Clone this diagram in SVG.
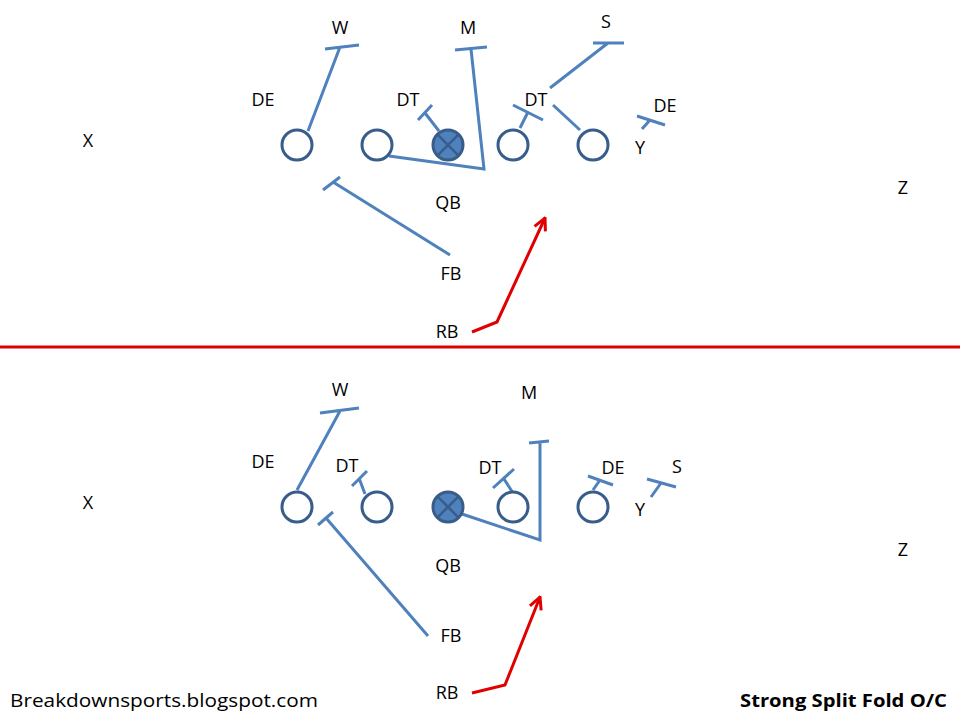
<svg xmlns="http://www.w3.org/2000/svg" width="960" height="720" viewBox="0 0 960 720">
<defs>
<style>
.l{fill:none;stroke:#4F81BD;stroke-width:3;stroke-linecap:butt}
.r{fill:none;stroke:#E00000;stroke-width:3}
.o{fill:#fff;stroke:#385D8A;stroke-width:3}
.f{fill:#4F81BD;stroke:#385D8A;stroke-width:3}
.x{stroke:#385D8A;stroke-width:2.5}
text{font-family:"Open Sans","Liberation Sans",sans-serif;font-size:18px;fill:#000;text-anchor:middle}
</style>
<marker id="ah" viewBox="0 0 10 10" refX="9" refY="5" markerWidth="5" markerHeight="5" orient="auto" markerUnits="strokeWidth">
<path d="M1,1 L9,5 L1,9" fill="none" stroke="#E00000" stroke-width="2"/>
</marker>
</defs>
<rect width="960" height="720" fill="#fff"/>
<g id="connectors">
<!-- top -->
<path class="l" d="M308,131 L340,47 M325,49 L359,45"/>
<path class="l" d="M455,50 L487,47 M471,49 L484,169 L389,156"/>
<path class="l" d="M439,131 L425,113 M418,120 L432,105"/>
<path class="l" d="M520,128 L528,112 M513,105 L543,120"/>
<path class="l" d="M550,88 L608,43 M593,43 L624,43"/>
<path class="l" d="M580,130 L553,105"/>
<path class="l" d="M642,129 L650,120 M637,116 L665,125"/>
<path class="l" d="M450,255 L333,182 M323,190 L340,177"/>
<path class="r" d="M472,332 L497,322 L545,218" marker-end="url(#ah)"/>
<line class="r" x1="0" y1="347" x2="960" y2="347"/>
<!-- bottom -->
<path class="l" d="M297,490 L340,411 M320,413 L359,408"/>
<path class="l" d="M365,494 L359,478 M352,486 L367,471"/>
<path class="l" d="M428,636 L326,518 M318,525 L333,512"/>
<path class="l" d="M529,443 L549,441 M540,442 L540,540 L462,514"/>
<path class="l" d="M513,493 L504,479 M493,488 L514,469"/>
<path class="l" d="M593,490 L600,480 M588,476 L613,485"/>
<path class="l" d="M651,497 L661,483 M647,479 L676,487"/>
<path class="r" d="M472,693 L505,685 L540,597" marker-end="url(#ah)"/>
</g>
<g id="top-line">
<g id="t-de1"><circle class="o" cx="297" cy="145" r="15"/></g>
<g id="t-g1"><circle class="o" cx="377" cy="145" r="15"/></g>
<g id="t-c"><circle class="f" cx="448" cy="145" r="15"/><path class="x" d="M437.4,134.4 L458.6,155.6 M458.6,134.4 L437.4,155.6"/></g>
<g id="t-g2"><circle class="o" cx="513" cy="145" r="15"/></g>
<g id="t-t"><circle class="o" cx="593" cy="145" r="15"/></g>
</g>
<g id="bottom-line">
<g id="b-de1"><circle class="o" cx="297" cy="507" r="15"/></g>
<g id="b-g1"><circle class="o" cx="377" cy="507" r="15"/></g>
<g id="b-c"><circle class="f" cx="448" cy="507" r="15"/><path class="x" d="M437.4,496.4 L458.6,517.6 M458.6,496.4 L437.4,517.6"/></g>
<g id="b-g2"><circle class="o" cx="513" cy="507" r="15"/></g>
<g id="b-t"><circle class="o" cx="593" cy="507" r="15"/></g>
</g>
<g id="labels-top">
<text x="340" y="34">W</text>
<text x="468" y="34">M</text>
<text x="606" y="28">S</text>
<text x="263" y="106">DE</text>
<text x="408" y="106">DT</text>
<text x="536" y="106">DT</text>
<text x="665" y="112">DE</text>
<text x="640" y="154">Y</text>
<text x="88" y="147">X</text>
<text x="903" y="194">Z</text>
<text x="448" y="209">QB</text>
<text x="451" y="280">FB</text>
<text x="447" y="338">RB</text>
</g>
<g id="labels-bottom">
<text x="340" y="396">W</text>
<text x="529" y="399">M</text>
<text x="263" y="468">DE</text>
<text x="347" y="472">DT</text>
<text x="490" y="474">DT</text>
<text x="613" y="474">DE</text>
<text x="677" y="473">S</text>
<text x="640" y="516">Y</text>
<text x="88" y="509">X</text>
<text x="903" y="556">Z</text>
<text x="448" y="572">QB</text>
<text x="451" y="642">FB</text>
<text x="447" y="699">RB</text>
</g>
<g id="footer">
<text x="10" y="707" style="text-anchor:start" textLength="308" lengthAdjust="spacingAndGlyphs">Breakdownsports.blogspot.com</text>
<text x="947" y="707" style="text-anchor:end;font-weight:bold" textLength="207" lengthAdjust="spacingAndGlyphs">Strong Split Fold O/C</text>
</g>
</svg>
